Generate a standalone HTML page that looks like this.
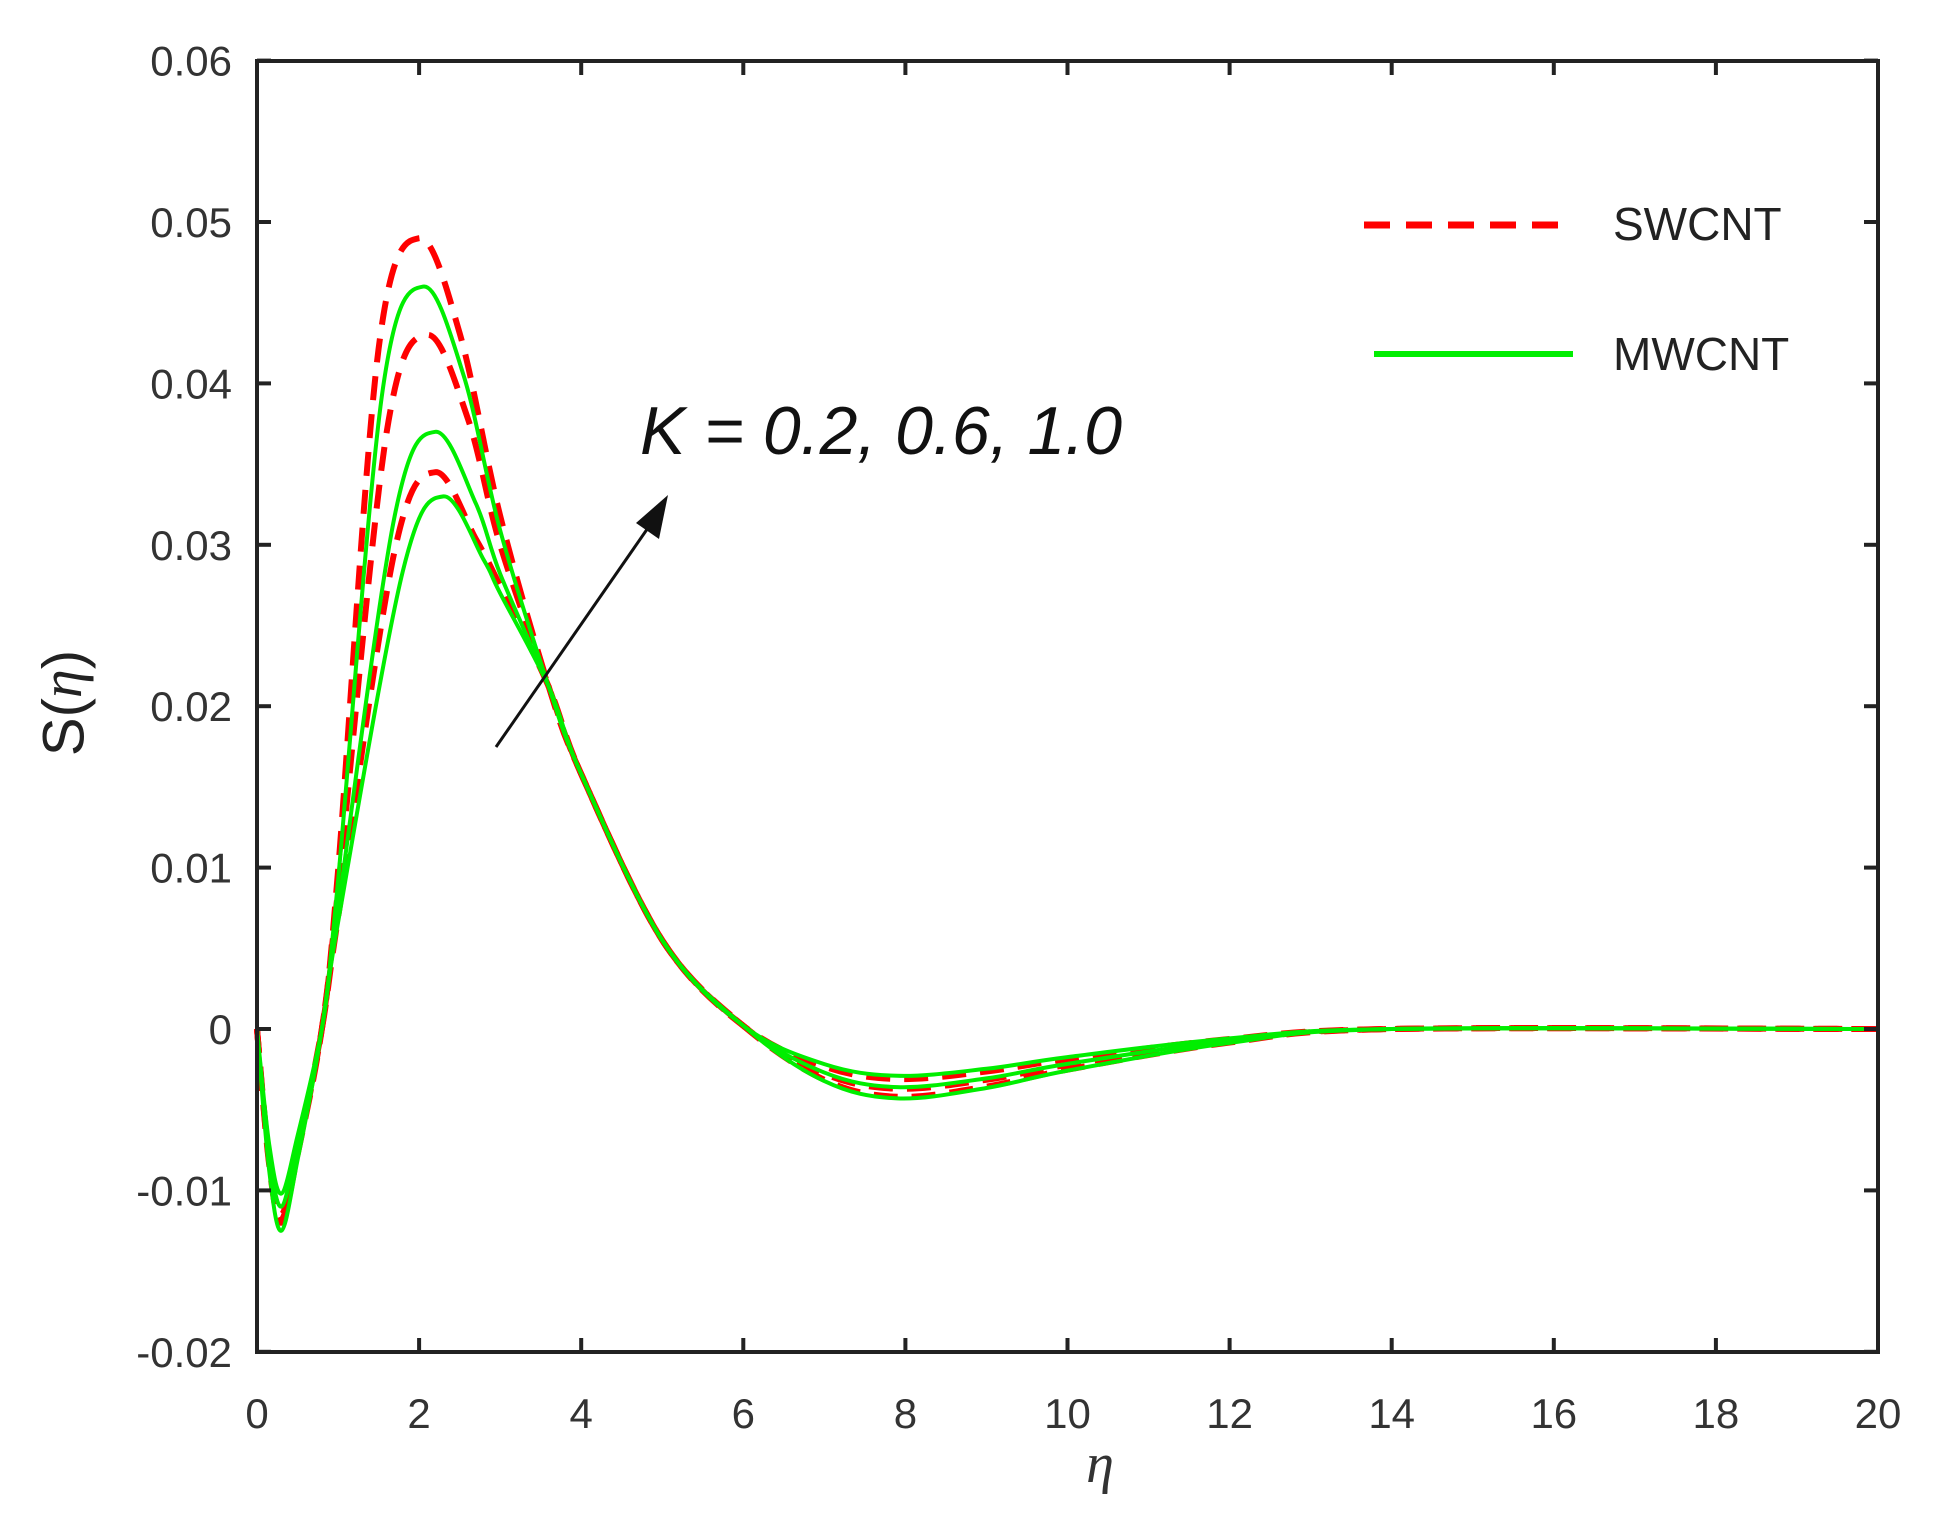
<!DOCTYPE html>
<html><head><meta charset="utf-8"><style>body{margin:0;background:#fff}svg{display:block}</style></head>
<body>
<svg id="s" width="1950" height="1531" xmlns="http://www.w3.org/2000/svg" font-family="Liberation Sans, Arial, sans-serif">
<rect width="1950" height="1531" fill="#fff"/>
<g id="curves"></g>
<g stroke="#222" stroke-width="4" fill="none">
<rect x="257" y="61" width="1621" height="1291"/>
</g>
<g id="ticks" stroke="#222" stroke-width="4"></g>
<g id="labels" font-size="42" fill="#333"></g>
<text x="68" y="703" font-size="58" fill="#222" text-anchor="middle" transform="rotate(-90 68 703)" dominant-baseline="middle">S(<tspan font-family="Liberation Serif, serif" font-style="italic">η</tspan>)</text>
<text x="1100" y="1482" font-size="56" fill="#333" text-anchor="middle" font-family="Liberation Serif, serif" font-style="italic">η</text>
<text x="640" y="454" font-size="68" font-style="italic" fill="#111">K = 0.2, 0.6, 1.0</text>
<line x1="496" y1="747" x2="650" y2="525" stroke="#111" stroke-width="3"/>
<polygon points="668,495 636,523 659,539" fill="#111"/>
<line x1="1364" y1="225" x2="1573" y2="225" stroke="#f00" stroke-width="7" stroke-dasharray="26 16"/>
<text x="1613" y="240" font-size="46" fill="#222">SWCNT</text>
<line x1="1374" y1="354" x2="1573" y2="354" stroke="#0e0" stroke-width="6"/>
<text x="1613" y="370" font-size="46" fill="#222">MWCNT</text>
</svg>
<script>
const X=e=>257+81.05*e, Y=s=>1029-s*16140;
let t='',l='';
for(let i=0;i<=10;i++){const x=X(2*i);t+=`<line x1="${x}" y1="1352" x2="${x}" y2="1338"/><line x1="${x}" y1="61" x2="${x}" y2="75"/>`;l+=`<text x="${x}" y="1428" text-anchor="middle">${2*i}</text>`;}
for(let j=0;j<=8;j++){const v=-0.02+0.01*j,y=Y(v);t+=`<line x1="257" y1="${y}" x2="271" y2="${y}"/><line x1="1878" y1="${y}" x2="1864" y2="${y}"/>`;let s=j==2?'0':v.toFixed(2);l+=`<text x="232" y="${y+15}" text-anchor="end">${s}</text>`;}
document.getElementById('ticks').innerHTML=t;document.getElementById('labels').innerHTML=l;
function pts(P,xp,T0,T2){return [[0,0],[0.15,T0*0.7],[0.3,T0],[0.5,T0*0.65],[0.8,0.0],[1.0,0.2*P],[xp-0.5,0.86*P],[xp,P],[xp+0.5,0.88*P],[3.0,0.027+(P-0.033)*0.3],[3.6,0.0212],[4,0.0158],[5,0.0055],[6,0.0002],[7,0.75*T2],[7.9,T2],[9,0.85*T2],[10,0.6*T2],[12,0.2*T2],[14,0],[20,0]];}
function path(p){const q=p.map(a=>[X(a[0]),Y(a[1])]);let d=`M${q[0][0]},${q[0][1]}`;for(let i=0;i<q.length-1;i++){const p0=q[Math.max(0,i-1)],p1=q[i],p2=q[i+1],p3=q[Math.min(q.length-1,i+2)];d+=`C${p1[0]+(p2[0]-p0[0])/6},${p1[1]+(p2[1]-p0[1])/6} ${p2[0]-(p3[0]-p1[0])/6},${p2[1]-(p3[1]-p1[1])/6} ${p2[0]},${p2[1]}`;}return d;}
const red=[[0.049,2.0,-0.012,-0.0031],[0.043,2.1,-0.0118,-0.0037],[0.0345,2.2,-0.0115,-0.0042]];
const grn=[[0.046,2.05,-0.0125,-0.0029],[0.037,2.2,-0.011,-0.0036],[0.033,2.3,-0.0102,-0.0043]];
let c='';
red.forEach(r=>c+=`<path d="${path(pts(...r))}" fill="none" stroke="#f00" stroke-width="6" stroke-dasharray="24 14"/>`);
grn.forEach(r=>c+=`<path d="${path(pts(...r))}" fill="none" stroke="#0e0" stroke-width="4"/>`);
document.getElementById('curves').innerHTML=c;
</script>
</body></html>
